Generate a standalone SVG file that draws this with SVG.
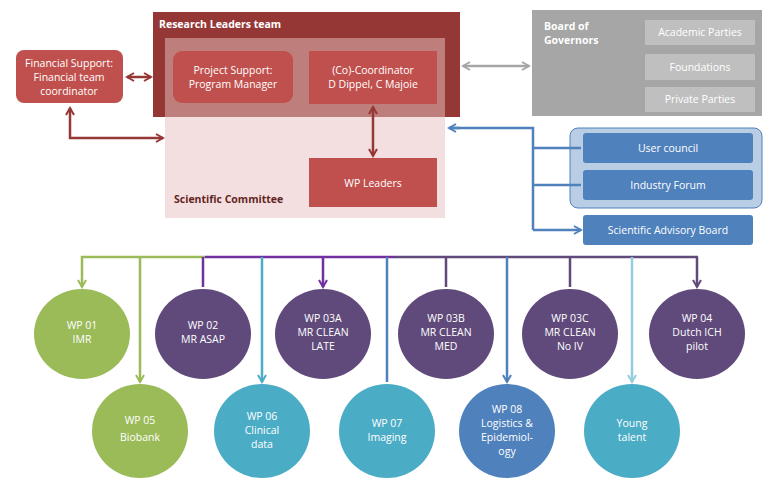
<svg xmlns="http://www.w3.org/2000/svg" width="768" height="480" viewBox="0 0 768 480">
<defs>
<style>
text{font-family:"Open Sans","Liberation Sans",sans-serif;font-size:10.5px;fill:#fff;text-anchor:middle}
.b{font-weight:bold;text-anchor:start}
.r{fill:#c0504d}
</style>
<marker id="ar" viewBox="0 0 10 10" refX="8" refY="5" markerWidth="4" markerHeight="4" orient="auto-start-reverse"><path d="M1,1L8,5L1,9" fill="none" stroke="context-stroke" stroke-width="2"/></marker>
</defs>
<rect width="768" height="480" fill="#fff"/>
<g id="research">
<rect x="153" y="12" width="307" height="105" fill="#953735"/>
<text x="159" y="28" class="b">Research Leaders team</text>
</g>
<g id="committee">
<rect x="165" y="38" width="280" height="180" fill="#f2dcdb" fill-opacity="0.9"/>
<rect x="165" y="38" width="280" height="79" fill="#b97572" opacity="0.9"/>
<text x="174" y="203" class="b" style="fill:#632523">Scientific Committee</text>
</g>
<g id="ps"><rect x="173" y="51" width="120" height="52" rx="9" class="r"/><text x="233" y="74">Project Support:</text><text x="233" y="88">Program Manager</text></g>
<g id="coord"><rect x="309" y="51" width="128" height="53" class="r"/><text x="373" y="74">(Co)-Coordinator</text><text x="373" y="88">D Dippel, C Majoie</text></g>
<g id="wpl"><rect x="309" y="158" width="128" height="49" class="r"/><text x="373" y="187">WP Leaders</text></g>
<g id="fin"><rect x="16" y="50" width="107" height="53" rx="8" class="r"/><text x="69" y="67">Financial Support:</text><text x="69" y="81">Financial team</text><text x="69" y="95">coordinator</text></g>
<g id="board">
<rect x="532" y="10" width="230" height="106" fill="#a6a6a6"/>
<text x="544" y="30" class="b">Board of</text><text x="544" y="44" class="b">Governors</text>
<rect x="645" y="20" width="110" height="25" fill="#bfbfbf"/><text x="700" y="36">Academic Parties</text>
<rect x="645" y="54" width="110" height="26" fill="#bfbfbf"/><text x="700" y="71">Foundations</text>
<rect x="645" y="87" width="110" height="25" fill="#bfbfbf"/><text x="700" y="103">Private Parties</text>
</g>
<g id="councils">
<rect x="570" y="128" width="192" height="80" rx="8" fill="#b9cde5" stroke="#4f81bd"/>
<rect x="583" y="133" width="170" height="30" rx="3" fill="#4f81bd"/><text x="668" y="152">User council</text>
<rect x="583" y="170" width="170" height="30" rx="3" fill="#4f81bd"/><text x="668" y="189">Industry Forum</text>
<rect x="583" y="215" width="170" height="30" rx="3" fill="#4f81bd"/><text x="668" y="234">Scientific Advisory Board</text>
</g>
<g id="connectors" fill="none" stroke-width="2.5">
<path d="M127,77H151" stroke="#953735" marker-start="url(#ar)" marker-end="url(#ar)"/>
<path d="M70,108V138H163" stroke="#953735" marker-start="url(#ar)" marker-end="url(#ar)"/>
<path d="M373,107V156" stroke="#953735" marker-start="url(#ar)" marker-end="url(#ar)"/>
<path d="M463,66H529" stroke="#a6a6a6" marker-start="url(#ar)" marker-end="url(#ar)"/>
<path d="M449,128H533V230" stroke="#4f81bd"/>
<path d="M449,128H460" stroke="#4f81bd" marker-start="url(#ar)"/>
<path d="M533,148H581M533,185H581M533,230H581" stroke="#4f81bd" marker-end="url(#ar)"/>
<path d="M82,287V257H205" stroke="#9bbb59" marker-start="url(#ar)"/>
<path d="M140,257V382" stroke="#9bbb59" marker-end="url(#ar)"/>
<path d="M205,257H395" stroke="#7030a0"/>
<path d="M395,257H698" stroke="#604a7b"/>
<path d="M203,257V287M323,257V287" stroke="#7030a0" marker-end="url(#ar)"/>
<path d="M446,257V287M570,257V287M697,257V287" stroke="#604a7b" marker-end="url(#ar)"/>
<path d="M262,257V382" stroke="#4bacc6" marker-end="url(#ar)"/>
<path d="M387,257V382M507,257V382" stroke="#4f81bd" marker-end="url(#ar)"/>
<path d="M632,257V382" stroke="#93cddd" marker-end="url(#ar)"/>
</g>
<g id="wp01"><ellipse cx="82" cy="334" rx="48" ry="45" fill="#9bbb59"/><text x="82" y="329">WP 01</text><text x="82" y="343">IMR</text></g>
<g id="wp02"><ellipse cx="203" cy="334" rx="48" ry="45" fill="#604a7b"/><text x="203" y="329">WP 02</text><text x="203" y="343">MR ASAP</text></g>
<g id="wp03a"><ellipse cx="323" cy="334" rx="48" ry="45" fill="#604a7b"/><text x="323" y="322">WP 03A</text><text x="323" y="336">MR CLEAN</text><text x="323" y="350">LATE</text></g>
<g id="wp03b"><ellipse cx="446" cy="334" rx="48" ry="45" fill="#604a7b"/><text x="446" y="322">WP 03B</text><text x="446" y="336">MR CLEAN</text><text x="446" y="350">MED</text></g>
<g id="wp03c"><ellipse cx="570" cy="334" rx="48" ry="45" fill="#604a7b"/><text x="570" y="322">WP 03C</text><text x="570" y="336">MR CLEAN</text><text x="570" y="350">No IV</text></g>
<g id="wp04"><ellipse cx="697" cy="334" rx="48" ry="45" fill="#604a7b"/><text x="697" y="322">WP 04</text><text x="697" y="336">Dutch ICH</text><text x="697" y="350">pilot</text></g>
<g id="wp05"><ellipse cx="140" cy="431" rx="48" ry="47" fill="#9bbb59"/><text x="140" y="424">WP 05</text><text x="140" y="441">Biobank</text></g>
<g id="wp06"><ellipse cx="262" cy="431" rx="48" ry="47" fill="#4bacc6"/><text x="262" y="420">WP 06</text><text x="262" y="434">Clinical</text><text x="262" y="448">data</text></g>
<g id="wp07"><ellipse cx="387" cy="431" rx="48" ry="47" fill="#4bacc6"/><text x="387" y="427">WP 07</text><text x="387" y="441">Imaging</text></g>
<g id="wp08"><ellipse cx="507" cy="431" rx="48" ry="47" fill="#4f81bd"/><text x="507" y="413">WP 08</text><text x="507" y="427">Logistics &amp;</text><text x="507" y="441">Epidemiol-</text><text x="507" y="455">ogy</text></g>
<g id="young"><ellipse cx="632" cy="431" rx="48" ry="47" fill="#4bacc6"/><text x="632" y="427">Young</text><text x="632" y="441">talent</text></g>
</svg>
